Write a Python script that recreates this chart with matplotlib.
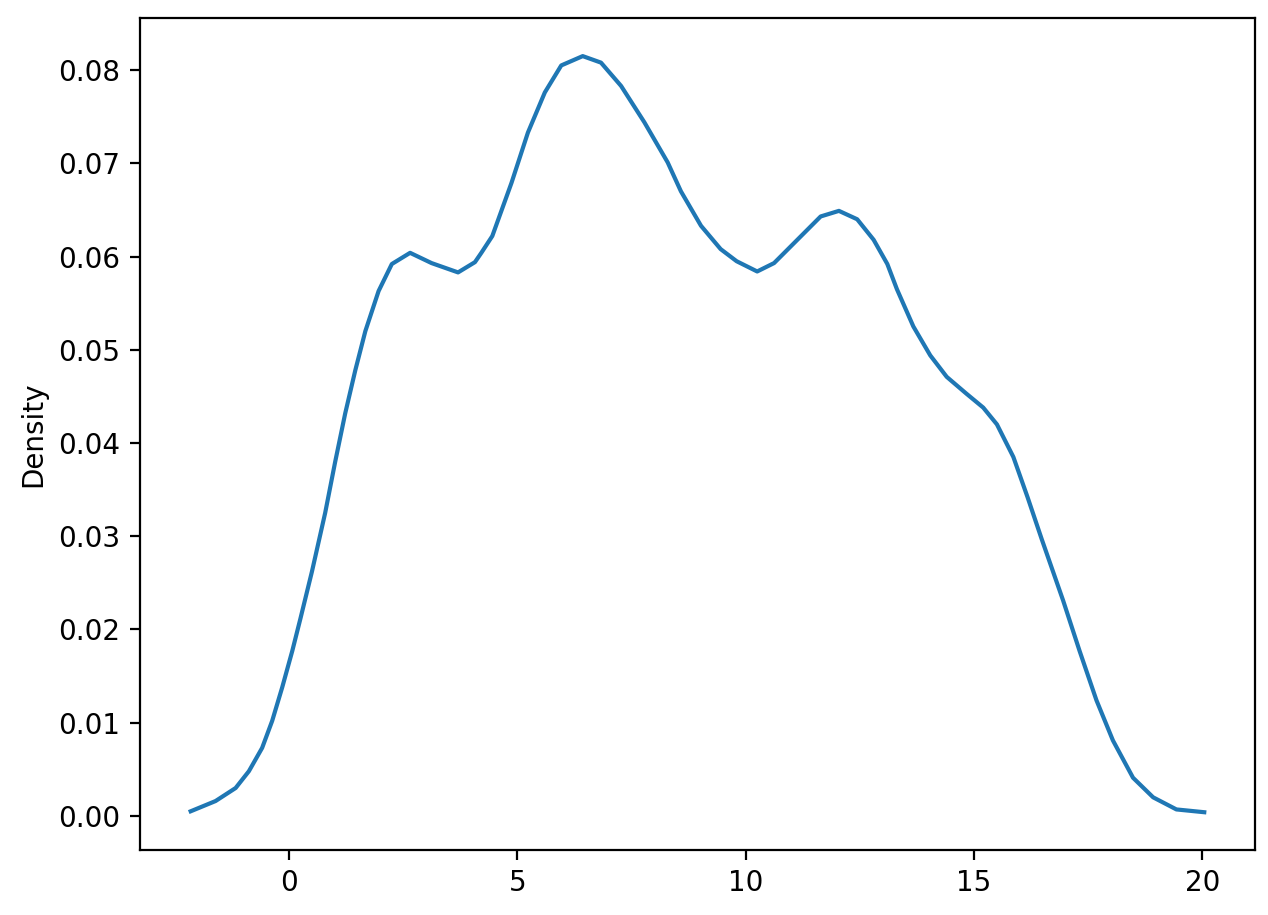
import matplotlib.pyplot as plt

# density curve (x, density)
xs = [-2.155, -1.61, -1.17, -0.88, -0.59, -0.37, -0.15, 0.07, 0.25, 0.50,
      0.79, 1.01, 1.23, 1.45, 1.67, 1.96, 2.25, 2.65, 3.12, 3.70, 4.07, 4.21,
      4.45, 4.87, 5.23, 5.60, 5.96, 6.43, 6.83, 7.27, 7.78, 8.29, 8.58, 9.02,
      9.45, 9.80, 10.25, 10.62, 11.13, 11.64, 12.04, 12.44, 12.80, 13.10,
      13.31, 13.67, 14.04, 14.40, 14.83, 15.20, 15.50, 15.86, 16.17, 16.48,
      16.95, 17.31, 17.68, 18.04, 18.48, 18.92, 19.43, 20.04]
dens = [0.0005, 0.0016, 0.0030, 0.0048, 0.0073, 0.0102, 0.0138, 0.0177,
        0.0212, 0.0262, 0.0325, 0.0380, 0.0432, 0.0478, 0.0520, 0.0563,
        0.0592, 0.0604, 0.0593, 0.0583, 0.0594, 0.0604, 0.0622, 0.0679,
        0.0733, 0.0776, 0.0805, 0.0815, 0.0808, 0.0783, 0.0744, 0.0701,
        0.0670, 0.0633, 0.0608, 0.0595, 0.0584, 0.0593, 0.0618, 0.0643,
        0.0649, 0.0640, 0.0618, 0.0592, 0.0565, 0.0525, 0.0494, 0.0471,
        0.0453, 0.0438, 0.0420, 0.0385, 0.0342, 0.0297, 0.0231, 0.0177,
        0.0124, 0.0081, 0.0041, 0.0020, 0.0007, 0.0004]

fig = plt.figure(figsize=(6.34, 4.575), dpi=200)
ax = fig.add_axes([0.1104, 0.071, 0.8793, 0.909])
ax.plot(xs, dens, color='C0')
ax.set_ylabel('Density')
ax.set_xticks([0, 5, 10, 15, 20])

fig.savefig('out.png', dpi=200)
